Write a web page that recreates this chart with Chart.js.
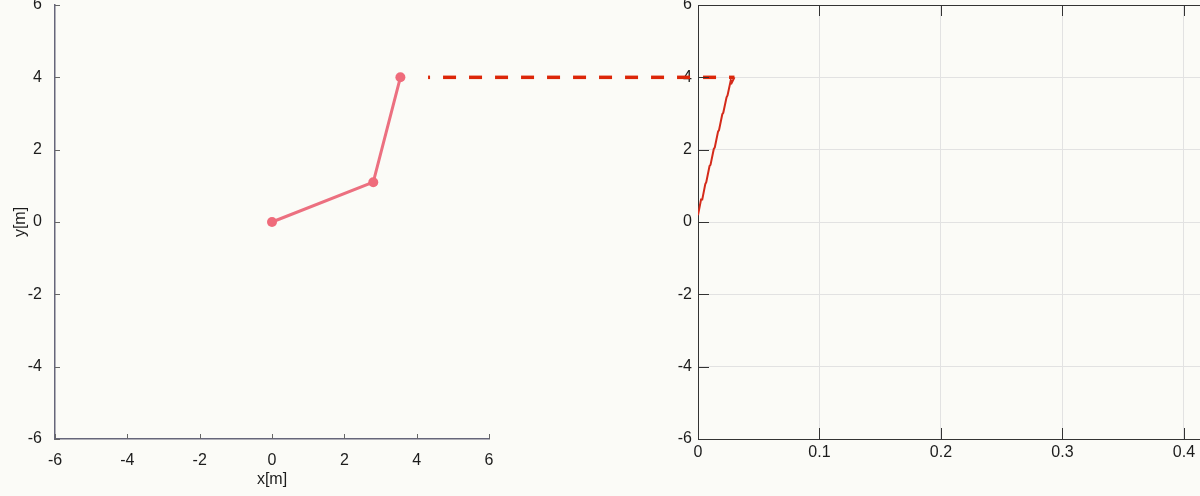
<!DOCTYPE html>
<html>
<head>
<meta charset="utf-8">
<script src="https://cdn.jsdelivr.net/npm/chart.js@4.4.0/dist/chart.umd.min.js"></script>
<style>
    html, body { margin: 0; padding: 0; background: #fbfbf7; }
    #wrap { position: relative; width: 1200px; height: 496px; }
    canvas { position: absolute; left: 0; top: 0; }
</style>
</head>
<body>
<div id="wrap">
    <canvas id="arm-chart" width="1200" height="496"></canvas>
    <canvas id="trace-chart" width="1200" height="496"></canvas>
</div>
<script>
// joints of the pendulum (left panel, metres)
const armX = [0, 2.8, 3.55];
const armY = [0, 1.1, 4.0];

// tip height trace (right panel)
const traceX = [0.000, 0.0025, 0.0035, 0.006, 0.0068, 0.0095, 0.0103, 0.013, 0.0138, 0.0165, 0.0173, 0.020, 0.0208, 0.0235, 0.0243, 0.027, 0.0278, 0.030];
const traceY = [0.19, 0.62, 0.62, 1.05, 1.10, 1.55, 1.58, 2.02, 2.06, 2.50, 2.54, 2.98, 3.02, 3.45, 3.50, 3.92, 3.85, 4.00];

// dashed link from the tip to the trace, in right panel x units
const linkX = [-0.2222, 0.03];
const linkY = [4, 4];

// tick labels
const armTicks = [-6, -4, -2, 0, 2, 4, 6];
const heightTicks = [-6, -4, -2, 0, 2, 4, 6];
const timeTicks = [0, 0.1, 0.2, 0.3, 0.4];

const FONT = { family: '"Liberation Sans", Arial, sans-serif', size: 16 };
const TEXT = '#1c1c1c';

function toPoints(xs, ys) {
    return xs.map((x, i) => ({ x: x, y: ys[i] }));
}

function fixedTicks(values) {
    return scale => { scale.ticks = values.map(v => ({ value: v })); };
}

function fixedSize(prop, size) {
    return scale => {
        scale[prop] = size;
        scale.paddingTop = 0;
        scale.paddingBottom = 0;
        scale.paddingLeft = 0;
        scale.paddingRight = 0;
    };
}

// MATLAB style ticks pointing into the plot
const innerTicks = {
    id: 'innerTicks',
    afterDraw(chart, args, opts) {
        const { ctx, chartArea: a, scales } = chart;
        ctx.save();
        ctx.strokeStyle = opts.color;
        ctx.lineWidth = opts.width;
        ctx.beginPath();
        scales.x.ticks.forEach(t => {
            const px = Math.round(scales.x.getPixelForValue(t.value)) + 0.5;
            ctx.moveTo(px, a.bottom);
            ctx.lineTo(px, a.bottom - opts.length);
            if (opts.top) {
                ctx.moveTo(px, a.top);
                ctx.lineTo(px, a.top + opts.length);
            }
        });
        scales.y.ticks.forEach(t => {
            const py = Math.round(scales.y.getPixelForValue(t.value)) + 0.5;
            ctx.moveTo(a.left, py);
            ctx.lineTo(a.left + opts.length, py);
        });
        if (opts.top) {
            ctx.moveTo(a.left, a.top + 0.5);
            ctx.lineTo(a.right, a.top + 0.5);
        }
        ctx.stroke();
        ctx.restore();
    }
};

new Chart(document.getElementById('arm-chart'), {
    type: 'scatter',
    data: {
        datasets: [{
            data: toPoints(armX, armY),
            showLine: true,
            borderColor: '#ec7080',
            backgroundColor: '#ef6b7b',
            borderWidth: 3,
            pointRadius: 5,
            pointBorderWidth: 0
        }]
    },
    options: {
        responsive: false,
        animation: false,
        layout: { padding: { top: 5, right: 711, left: 0, bottom: 0 } },
        plugins: {
            legend: { display: false },
            tooltip: { enabled: false },
            innerTicks: { color: '#666', width: 1, length: 5 }
        },
        scales: {
            x: {
                min: -6, max: 6,
                afterBuildTicks: fixedTicks(armTicks),
                afterFit: fixedSize('height', 57),
                grid: { display: false },
                border: { display: true, color: '#66667a', width: 1.5 },
                ticks: { color: TEXT, font: FONT, padding: 4, maxRotation: 0, callback: v => String(v) },
                title: { display: true, text: 'x[m]', color: TEXT, font: FONT, padding: { top: 0, bottom: 7 } }
            },
            y: {
                min: -6, max: 6,
                afterBuildTicks: fixedTicks(armTicks),
                afterFit: fixedSize('width', 55),
                grid: { display: false },
                border: { display: true, color: '#66667a', width: 1.5 },
                ticks: { color: TEXT, font: FONT, padding: 5, callback: v => String(v) },
                title: { display: true, text: 'y[m]', color: TEXT, font: FONT, padding: 11 }
            }
        }
    },
    plugins: [innerTicks]
});

new Chart(document.getElementById('trace-chart'), {
    type: 'scatter',
    data: {
        datasets: [{
            data: toPoints(traceX, traceY),
            showLine: true,
            borderColor: '#d42a1a',
            borderWidth: 2,
            pointRadius: 0
        }, {
            data: toPoints(linkX, linkY),
            showLine: true,
            borderColor: '#dc2608',
            borderWidth: 3.5,
            borderDash: [13, 13],
            borderDashOffset: 11,
            pointRadius: 0,
            clip: false
        }]
    },
    options: {
        responsive: false,
        animation: false,
        layout: { padding: { top: 5, right: 0, left: 0, bottom: 0 } },
        plugins: {
            legend: { display: false },
            tooltip: { enabled: false },
            innerTicks: { color: '#333', width: 1, length: 11, top: true }
        },
        scales: {
            x: {
                min: 0, max: 0.4132,
                afterBuildTicks: fixedTicks(timeTicks),
                afterFit: fixedSize('height', 57),
                grid: { display: true, drawTicks: false, color: '#e2e2e2' },
                border: { display: true, color: '#333', width: 1 },
                ticks: { color: TEXT, font: FONT, padding: 4, maxRotation: 0, callback: v => String(v) }
            },
            y: {
                min: -6, max: 6,
                afterBuildTicks: fixedTicks(heightTicks),
                afterFit: fixedSize('width', 698),
                grid: { display: true, drawTicks: false, color: '#e2e2e2' },
                border: { display: true, color: '#333', width: 1 },
                ticks: { color: TEXT, font: FONT, padding: 6, callback: v => String(v) }
            }
        }
    },
    plugins: [innerTicks]
});
</script>
</body>
</html>
